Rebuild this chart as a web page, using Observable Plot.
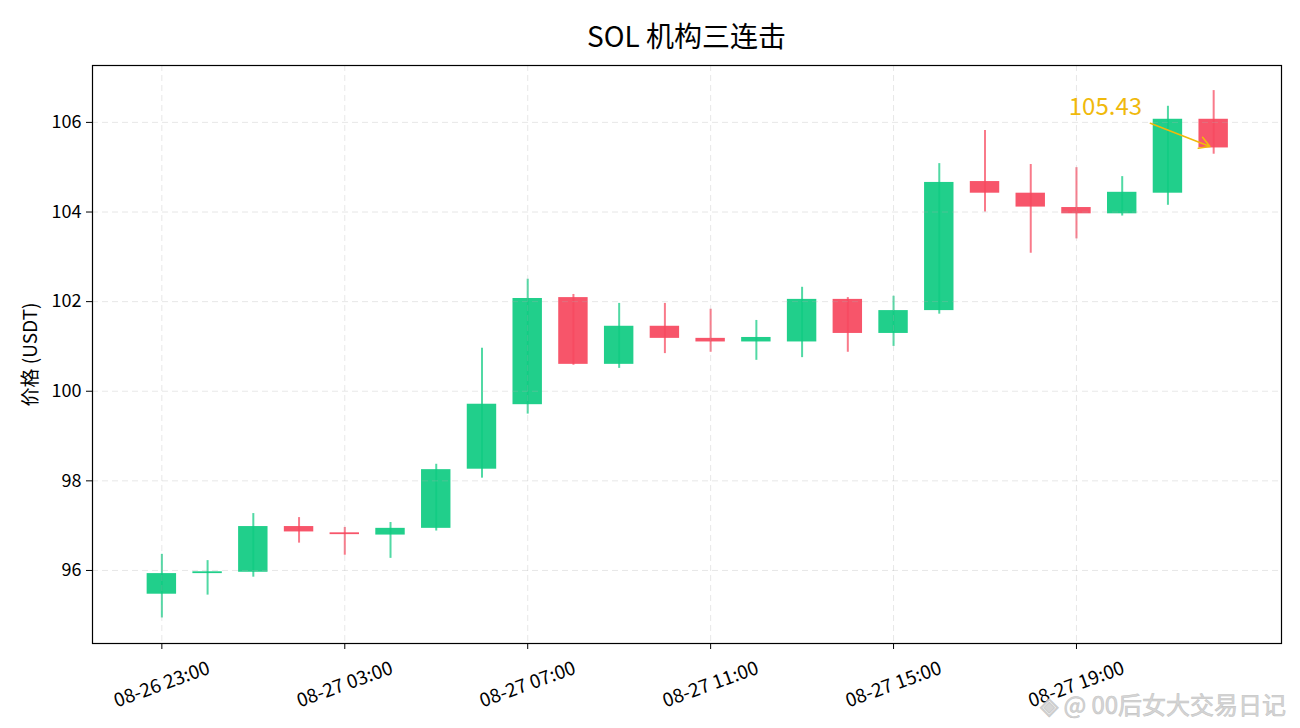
<!DOCTYPE html>
<html>
<head>
<meta charset="utf-8">
<script src="https://cdn.jsdelivr.net/npm/d3@7"></script>
<script src="https://cdn.jsdelivr.net/npm/@observablehq/plot@0.6"></script>
<style>
  body { margin: 0; background: #fff; width: 1300px; height: 728px; overflow: hidden; position: relative; }
  #title { position: absolute; left: 92px; width: 1189px; top: 13px; height: 44px; line-height: 44px; text-align: center;
           font-family: "Noto Sans CJK SC", sans-serif; font-size: 28px; color: #000; }
  #chart { position: absolute; left: 0; top: 0; }
  #wm { position: absolute; left: 1040px; top: 686px; font-family: "Noto Sans CJK SC", sans-serif; font-size: 24px;
        color: #d6d6d6; -webkit-text-stroke: 0.6px #c4c4c4; white-space: nowrap; }
</style>
</head>
<body>
<div id="chart"></div>
<div id="title">SOL 机构三连击</div>
<div id="wm">◈ @ 00后女大交易日记</div>
<script>
const times = ["2024-08-26T23:00Z","2024-08-27T00:00Z","2024-08-27T01:00Z","2024-08-27T02:00Z","2024-08-27T03:00Z","2024-08-27T04:00Z",
  "2024-08-27T05:00Z","2024-08-27T06:00Z","2024-08-27T07:00Z","2024-08-27T08:00Z","2024-08-27T09:00Z","2024-08-27T10:00Z",
  "2024-08-27T11:00Z","2024-08-27T12:00Z","2024-08-27T13:00Z","2024-08-27T14:00Z","2024-08-27T15:00Z","2024-08-27T16:00Z",
  "2024-08-27T17:00Z","2024-08-27T18:00Z","2024-08-27T19:00Z","2024-08-27T20:00Z","2024-08-27T21:00Z","2024-08-27T22:00Z"];
const open  = [95.47, 95.93, 95.96, 96.98, 96.84, 96.79, 96.94, 98.26, 99.70, 102.09, 100.60, 101.45,
               101.18, 101.10, 101.10, 102.05, 101.29, 101.80, 104.68, 104.42, 104.10, 103.96, 104.42, 106.07];
const high  = [96.36, 96.22, 97.27, 97.18, 96.96, 97.07, 98.37, 100.96, 102.50, 102.16, 101.96, 101.96,
               101.83, 101.58, 102.32, 102.09, 102.12, 105.08, 105.82, 105.06, 104.99, 104.79, 106.36, 106.71];
const low   = [94.94, 95.45, 95.85, 96.61, 96.34, 96.27, 96.88, 98.06, 99.49, 100.58, 100.51, 100.84,
               100.87, 100.69, 100.75, 100.87, 101.00, 101.72, 104.00, 103.08, 103.40, 103.91, 104.15, 105.29];
const close = [95.93, 95.97, 96.98, 96.86, 96.80, 96.94, 98.25, 99.71, 102.07, 100.60, 101.45, 101.18,
               101.10, 101.20, 102.05, 101.29, 101.80, 104.66, 104.42, 104.11, 103.96, 104.44, 106.07, 105.43];

const yTicks = [96, 98, 100, 102, 104, 106];
const xTickLabels = ["2024-08-26T23:00Z","2024-08-27T03:00Z","2024-08-27T07:00Z","2024-08-27T11:00Z","2024-08-27T15:00Z","2024-08-27T19:00Z"];
const xDomain = ["2024-08-26T21:29Z", "2024-08-27T23:29Z"];
const yDomain = [94.37, 107.27];

const annotText = "105.43";
const annotTextPos = {t: "2024-08-27T19:38Z", v: 106.33};
const annotArrowStart = {t: "2024-08-27T20:37Z", v: 105.98};
const annotArrowEnd = {t: "2024-08-27T22:00Z", v: 105.43};

const GREEN = "#0ECB81", RED = "#F6465D", GOLD = "#F0B90B";
const halfBody = 19.3 * 60 * 1000; // half candle width in ms

const candles = times.map((t, i) => ({
  t: new Date(t), o: open[i], h: high[i], l: low[i], c: close[i], up: close[i] >= open[i]
}));
const xt = xTickLabels.map(d => new Date(d));
const fmt = d3.utcFormat("%m-%d %H:%M");
const FONT = "'Noto Sans CJK SC', sans-serif";

const chart = Plot.plot({
  width: 1300, height: 728,
  marginTop: 65, marginBottom: 85, marginLeft: 92, marginRight: 19,
  style: {fontFamily: FONT, fontSize: "18px", color: "#000", background: "#fff"},
  x: {type: "utc", domain: xDomain.map(d => new Date(d))},
  y: {domain: yDomain},
  marks: [
    Plot.ruleX(candles, {x: "t", y1: "l", y2: "h", stroke: d => d.up ? GREEN : RED, strokeWidth: 2, strokeOpacity: 0.72}),
    Plot.rectY(candles, {
      x1: d => new Date(+d.t - halfBody), x2: d => new Date(+d.t + halfBody),
      y1: "o", y2: "c", fill: d => d.up ? GREEN : RED, fillOpacity: 0.92
    }),
    Plot.gridY(yTicks, {stroke: "#b0b0b0", strokeOpacity: 0.3, strokeDasharray: "6,4", strokeWidth: 1}),
    Plot.gridX(xt, {stroke: "#b0b0b0", strokeOpacity: 0.3, strokeDasharray: "6,4", strokeWidth: 1}),
    Plot.arrow([0], {
      x1: () => new Date(annotArrowStart.t), y1: () => annotArrowStart.v,
      x2: () => new Date(annotArrowEnd.t), y2: () => annotArrowEnd.v,
      stroke: GOLD, strokeWidth: 1.6, headLength: 11, insetEnd: 4, bend: 0
    }),
    Plot.text([annotText], {
      x: () => new Date(annotTextPos.t), y: () => annotTextPos.v, text: d => d,
      fill: GOLD, fontSize: 24, textAnchor: "middle", lineAnchor: "middle"
    }),
    Plot.frame({stroke: "#000", strokeWidth: 1.2}),
    Plot.axisY(yTicks, {tickSize: 6, tickPadding: 5, fontSize: 18, label: null, stroke: "#000"}),
    Plot.axisX(xt, {tickSize: 6, tickFormat: () => "", label: null, stroke: "#000"}),
    Plot.text(xt, {x: d => d, text: d => fmt(d), frameAnchor: "bottom", dy: 41, rotate: -20,
      textAnchor: "middle", lineAnchor: "middle", fontSize: 19, fill: "#000"}),
    Plot.text(["价格 (USDT)"], {text: d => d, frameAnchor: "left", dx: -62, rotate: -90,
      textAnchor: "middle", lineAnchor: "middle", fontSize: 19, fill: "#000"})
  ]
});
document.getElementById("chart").appendChild(chart);
</script>
</body>
</html>
